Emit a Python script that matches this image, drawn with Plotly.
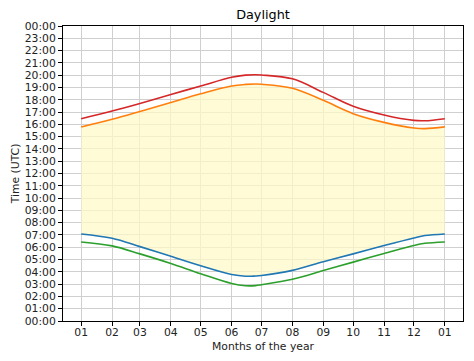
import plotly.graph_objects as go

dates = ["2023-01-01", "2023-02-01", "2023-03-01", "2023-04-01", "2023-05-01", "2023-06-01",
         "2023-06-15", "2023-06-25", "2023-07-01", "2023-08-01", "2023-09-01", "2023-10-01",
         "2023-11-01", "2023-12-01", "2023-12-12", "2024-01-01"]

dusk = [16.46, 17.08, 17.70, 18.43, 19.12, 19.83, 20.00, 20.04, 20.01, 19.70, 18.60, 17.47,
        16.76, 16.32, 16.29, 16.46]
sunset = [15.79, 16.41, 17.05, 17.78, 18.49, 19.12, 19.25, 19.28, 19.26, 18.93, 17.95, 16.87,
          16.16, 15.70, 15.65, 15.79]
sunrise = [7.08, 6.73, 6.05, 5.27, 4.49, 3.78, 3.64, 3.66, 3.70, 4.12, 4.82, 5.46,
           6.14, 6.76, 6.95, 7.08]
dawn = [6.43, 6.11, 5.46, 4.68, 3.84, 3.05, 2.87, 2.88, 2.95, 3.40, 4.10, 4.79,
        5.49, 6.15, 6.32, 6.43]

hour_vals = list(range(0, 25))
hour_labels = [f"{h % 24:02d}:00" for h in hour_vals]

FONT = "DejaVu Sans"
W, H = 458, 345  # page body adds an 8px margin

fig = go.Figure()
fig.add_trace(go.Scatter(x=dates, y=sunrise, mode="lines", line=dict(color="#1f77b4", width=1.6, shape="spline"),
                         showlegend=False))
fig.add_trace(go.Scatter(x=dates, y=sunset, mode="lines", line=dict(color="#ff7f0e", width=1.6, shape="spline"),
                         fill="tonexty", fillcolor="rgba(255,250,200,0.72)", showlegend=False))
fig.add_trace(go.Scatter(x=dates, y=dusk, mode="lines", line=dict(color="#d62728", width=1.6, shape="spline"),
                         showlegend=False))
fig.add_trace(go.Scatter(x=dates, y=dawn, mode="lines", line=dict(color="#2ca02c", width=1.6, shape="spline"),
                         showlegend=False))

fig.update_layout(
    width=W, height=H,
    margin=dict(l=55, r=3, t=18, b=32, autoexpand=False),
    paper_bgcolor="white", plot_bgcolor="white",
    font=dict(family=FONT, size=10.8, color="#222222"),
    title=dict(text="Daylight", x=255 / W, xanchor="center", xref="container",
               y=1 - 7 / H, yanchor="middle", font=dict(size=12.8, color="black")),
)
fig.update_xaxes(
    type="date", range=["2022-12-13 18:00", "2024-01-19 06:00"],
    tick0="2023-01-01", dtick="M1", tickformat="%m",
    ticks="outside", ticklen=4, tickcolor="black",
    showgrid=True, gridcolor="#cfcfcf", gridwidth=1,
    showline=True, linecolor="black", linewidth=1, mirror=True,
    automargin=False, ticklabelstandoff=-3,
    title=dict(text="Months of the year", font=dict(size=10.8), standoff=4),
    tickfont=dict(size=10.8),
)
fig.update_yaxes(
    range=[0, 24], tickvals=hour_vals, ticktext=hour_labels,
    ticks="outside", ticklen=4, tickcolor="black",
    showgrid=True, gridcolor="#cfcfcf", gridwidth=1,
    showline=True, linecolor="black", linewidth=1, mirror=True,
    zeroline=False, automargin=False,
    title=dict(text="Time (UTC)", font=dict(size=10.8), standoff=2),
    tickfont=dict(size=10.8),
)

fig.write_html("out.html")
